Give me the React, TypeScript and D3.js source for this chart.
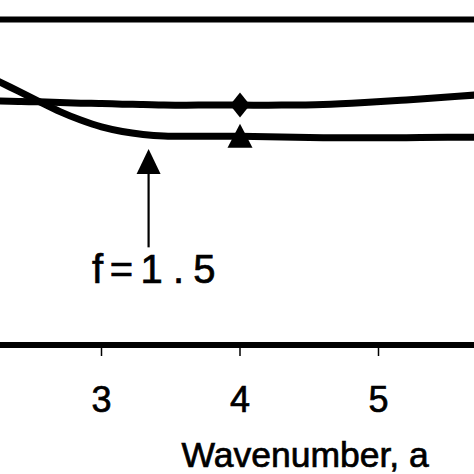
import React from "react";
import * as d3 from "d3";

const W = 474;
const H = 474;

// x: wavenumber a ; y: arbitrary units
const xValues = [2.25, 2.4, 2.55, 2.7, 2.85, 3.0, 3.15, 3.3, 3.45, 3.7, 4.0, 4.3, 4.6, 4.9, 5.2, 5.5, 5.7];
const diamondSeries = [7.5, 7.48, 7.47, 7.45, 7.43, 7.42, 7.4, 7.39, 7.37, 7.37, 7.37, 7.37, 7.39, 7.45, 7.53, 7.62, 7.68];
const triangleSeries = [8.11, 7.8, 7.48, 7.17, 6.91, 6.7, 6.56, 6.47, 6.42, 6.41, 6.41, 6.39, 6.37, 6.37, 6.37, 6.38, 6.38];
const markerX = [4.0];
const xTicks = [3, 4, 5];
const xLabel = "Wavenumber, a";
const labelParts = ["f", "=", "1", ".", "5"];
const arrowX = 3.34;
const arrowTipY = 6.02;
const arrowTailY = 3.0;

const FONT = "'Liberation Sans', Arial, Helvetica, sans-serif";

export default function App() {
  const x = d3.scaleLinear().domain([3, 5]).range([101.5, 378.5]);
  const y = d3.scaleLinear().domain([0, 10]).range([345, 19.5]);

  const line = d3
    .line<number>()
    .x((_, i) => x(xValues[i]))
    .y((d) => y(d))
    .curve(d3.curveCatmullRom.alpha(0.5));

  const interp = (series: number[], xv: number) => {
    const i = xValues.indexOf(xv);
    if (i >= 0) return series[i];
    return d3.scaleLinear().domain(xValues).range(series)(xv);
  };

  const ax = x(arrowX);
  const tipY = y(arrowTipY);
  const tailY = y(arrowTailY);
  const headLen = 25;
  const headHalf = 12;

  const labelXs = [92, 109.7, 140.6, 173, 193.3];
  const textStroke = { stroke: "#000", strokeWidth: 0.7 };

  return (
    <svg
      width={W}
      height={H}
      viewBox={`0 0 ${W} ${H}`}
      style={{ position: "fixed", left: 0, top: 0, background: "#fff", display: "block" }}
    >
      <rect x={0} y={0} width={W} height={H} fill="#fff" />
      {/* top frame line */}
      <line x1={0} x2={W} y1={y(10)} y2={y(10)} stroke="#000" strokeWidth={6} />
      {/* x axis */}
      <line x1={0} x2={W} y1={y(0)} y2={y(0)} stroke="#000" strokeWidth={6} />
      {xTicks.map((t) => (
        <g key={t}>
          <line x1={x(t)} x2={x(t)} y1={y(0)} y2={y(0) + 11} stroke="#000" strokeWidth={1.5} />
          <text
            x={x(t)}
            y={412}
            textAnchor="middle"
            fontFamily={FONT}
            fontSize={36}
            fill="#000"
            {...textStroke}
          >
            {t}
          </text>
        </g>
      ))}
      <text x={181.5} y={467} fontFamily={FONT} fontSize={35.5} fill="#000" {...textStroke}>
        {xLabel}
      </text>

      {/* curves */}
      <path d={line(diamondSeries) || ""} fill="none" stroke="#000" strokeWidth={7} strokeLinejoin="round" />
      <path d={line(triangleSeries) || ""} fill="none" stroke="#000" strokeWidth={7} strokeLinejoin="round" />

      {/* markers */}
      {markerX.map((mx) => {
        const cx = x(mx);
        const cy = y(interp(diamondSeries, mx));
        return (
          <path
            key={"d" + mx}
            d={`M${cx},${cy - 12.5} L${cx + 10},${cy} L${cx},${cy + 12.5} L${cx - 10},${cy} Z`}
            fill="#000"
          />
        );
      })}
      {markerX.map((mx) => {
        const cx = x(mx);
        const cy = y(interp(triangleSeries, mx));
        return (
          <path
            key={"t" + mx}
            d={`M${cx},${cy - 12.5} L${cx + 12.5},${cy + 11.5} L${cx - 12.5},${cy + 11.5} Z`}
            fill="#000"
          />
        );
      })}

      {/* arrow annotation */}
      <line x1={ax} x2={ax} y1={tailY} y2={tipY + headLen - 2} stroke="#000" strokeWidth={2.2} />
      <path
        d={`M${ax},${tipY} L${ax + headHalf},${tipY + headLen} L${ax - headHalf},${tipY + headLen} Z`}
        fill="#000"
      />
      <text y={283} fontFamily={FONT} fontSize={40} fill="#000" {...textStroke}>
        {labelParts.map((p, i) => (
          <tspan key={i} x={labelXs[i]}>
            {p}
          </tspan>
        ))}
      </text>
    </svg>
  );
}
